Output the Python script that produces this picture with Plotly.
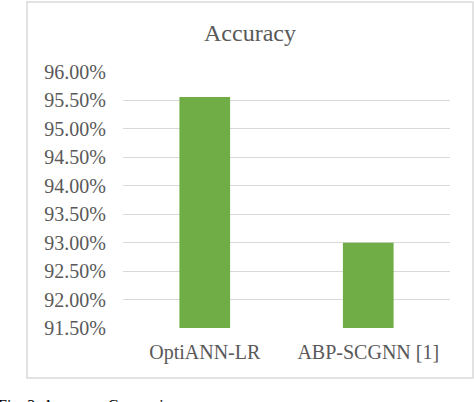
import plotly.graph_objects as go

# values
models = ["OptiANN-LR", "ABP-SCGNN [1]"]
accuracy = [0.9556, 0.9300]
y_ticks = [0.915, 0.92, 0.925, 0.93, 0.935, 0.94, 0.945, 0.95, 0.955, 0.96]

W, H = 474, 402
L, R, T, B = 123, 24, 72, 74
pw, ph = W - L - R, H - T - B


def px_x(x):
    return (x - L) / pw


def px_y(y):
    return (H - B - y) / ph


grey = "#595959"
serif = "Liberation Serif"

fig = go.Figure()
fig.add_trace(go.Bar(x=models, y=accuracy, marker_color="#70AD47",
                     marker_line_width=0))

fig.update_layout(
    width=W, height=H,
    margin=dict(l=L, r=R, t=T, b=B),
    paper_bgcolor="white", plot_bgcolor="white",
    bargap=0.69,
    showlegend=False,
    font=dict(family=serif, color=grey, size=20),
    title=dict(text="Accuracy", x=px_x(250), xref="paper", xanchor="center",
               y=1 - 33 / H, yanchor="middle",
               font=dict(family=serif, size=24, color=grey)),
)
fig.update_xaxes(showline=False, showgrid=False, ticks="",
                 tickfont=dict(family=serif, size=20, color=grey), ticklabelstandoff=10)
fig.update_yaxes(range=[0.915, 0.96], tickvals=y_ticks, tickformat=".2%",
                 showgrid=True, gridcolor="#d9d9d9", gridwidth=1,
                 zeroline=False, showline=False, ticks="",
                 tickfont=dict(family=serif, size=20, color=grey), ticklabelstandoff=16)

# chart area border
fig.add_shape(type="rect", xref="paper", yref="paper",
              x0=px_x(27), x1=px_x(473), y0=px_y(378), y1=px_y(2),
              line=dict(color="#d9d9d9", width=1.5), fillcolor="rgba(0,0,0,0)",
              layer="below")

# figure caption (cut off at the bottom of the picture)
fig.add_annotation(text="Fig. 3. Accuracy Comparisons", xref="paper", yref="paper",
                   x=px_x(-4), y=px_y(406), xanchor="left", yanchor="middle",
                   showarrow=False, font=dict(family=serif, size=16, color="black"))

# drop the default page margin so the figure sits at the top-left corner
fig.write_html("out.html", config={"displayModeBar": False},
               post_script="document.body.style.margin='0';")
